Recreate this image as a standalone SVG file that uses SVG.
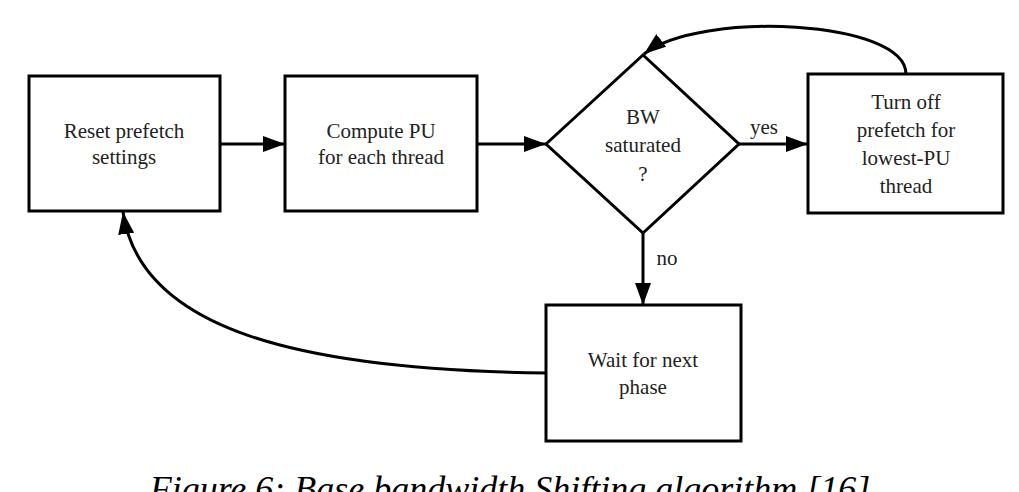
<svg xmlns="http://www.w3.org/2000/svg" width="1019" height="492" viewBox="0 0 1019 492">
<style>
.n{fill:#fff;stroke:#000;stroke-width:3}
.t{font-family:"Liberation Serif",serif;font-size:21px;fill:#222;text-anchor:middle}
.c{fill:none;stroke:#000;stroke-width:3}
</style>
<defs><marker id="m" viewBox="0 0 22 16" refX="22" refY="8" markerWidth="22" markerHeight="16" markerUnits="userSpaceOnUse" orient="auto"><path d="M0,0 L22,8 L0,16 z" fill="#000"/></marker></defs>
<rect width="1019" height="492" fill="#fff"/>
<g id="n1"><rect class="n" x="29" y="76" width="191" height="135"/><text class="t" x="124" y="138">Reset prefetch</text><text class="t" x="124" y="164">settings</text></g>
<g id="n2"><rect class="n" x="285" y="76" width="192" height="135"/><text class="t" x="381" y="138">Compute PU</text><text class="t" x="381" y="164">for each thread</text></g>
<g id="n3"><polygon class="n" points="546,144 643,55 739,144 643,233"/><text class="t" x="643" y="124">BW</text><text class="t" x="643" y="152">saturated</text><text class="t" x="643" y="181">?</text></g>
<g id="n4"><rect class="n" x="808" y="74" width="195" height="139"/><text class="t" x="906" y="109">Turn off</text><text class="t" x="906" y="137">prefetch for</text><text class="t" x="906" y="165">lowest-PU</text><text class="t" x="906" y="193">thread</text></g>
<g id="n5"><rect class="n" x="546" y="305" width="195" height="136"/><text class="t" x="643" y="367">Wait for next</text><text class="t" x="643" y="394">phase</text></g>
<g id="edges">
<path class="c" d="M220,144 H285" marker-end="url(#m)"/>
<path class="c" d="M477,144 H546" marker-end="url(#m)"/>
<path class="c" d="M739,144 H808" marker-end="url(#m)"/>
<path class="c" d="M643,233 V305" marker-end="url(#m)"/>
<path class="c" d="M906,74 C906,20 700,10 644,54" marker-end="url(#m)"/>
<path class="c" d="M546,373 C300,370 140,330 123,212" marker-end="url(#m)"/>
<text class="t" x="764" y="134">yes</text>
<text class="t" x="667" y="265">no</text>
</g>
<text x="510" y="501" style="font-family:'Liberation Serif',serif;font-style:italic;font-size:36px;text-anchor:middle;fill:#000">Figure 6: Base bandwidth Shifting algorithm [16]</text>
</svg>
